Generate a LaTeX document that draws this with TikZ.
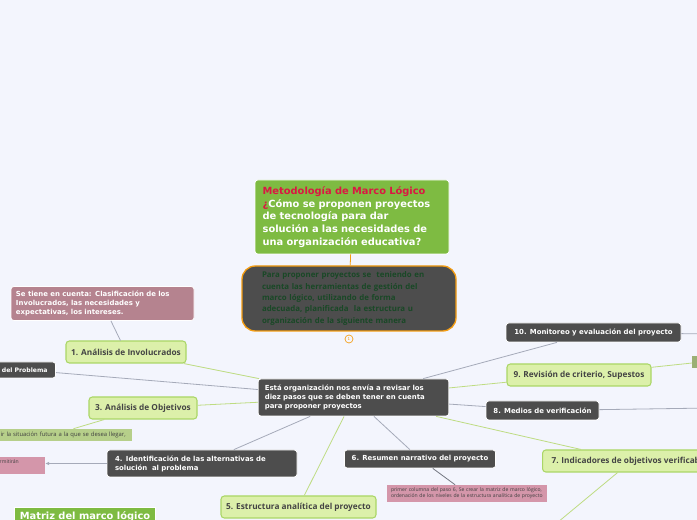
\documentclass[tikz,border=0pt]{standalone}
\usepackage{fontspec}
\setmainfont{DejaVu Sans}
\newfontfamily\opensans{Open Sans}
\usetikzlibrary{arrows.meta}
\definecolor{mmbg}{RGB}{243,245,253}
\definecolor{mmgreen}{RGB}{126,187,66}
\definecolor{mmred}{RGB}{218,24,66}
\definecolor{mmdark}{RGB}{77,77,77}
\definecolor{mmorange}{RGB}{243,156,18}
\definecolor{mmdkgreen}{RGB}{25,72,38}
\definecolor{mmlight}{RGB}{220,240,170}
\definecolor{mmlightedge}{RGB}{170,214,102}
\definecolor{mmtext}{RGB}{68,68,68}
\definecolor{mmmauve}{RGB}{181,131,143}
\definecolor{mmpink}{RGB}{212,150,170}
\definecolor{mmstrip}{RGB}{182,207,138}
\definecolor{mmgreenline}{RGB}{190,220,130}
\definecolor{mmline}{RGB}{165,170,185}
\begin{document}
\begin{tikzpicture}[x=0.75pt, y=-0.75pt,
    darkbox/.style={fill=mmdark, draw=white, line width=0.6pt, rounded corners=2pt, text=white, font=\bfseries\fontsize{5.2}{6.75}\selectfont, align=left, inner xsep=5.5pt, inner ysep=2pt},
    lightbox/.style={fill=mmlight, draw=mmlightedge, line width=0.8pt, rounded corners=2.5pt, text=mmtext, font=\opensans\bfseries\fontsize{6.2}{7.5}\selectfont, inner sep=0pt},
    notebox/.style={inner ysep=1.5pt, font=\opensans\fontsize{3.8}{4.6}\selectfont, text=black!75, align=left},
    greyline/.style={draw=mmline, line width=0.6pt},
    greenline/.style={draw=mmgreenline, line width=0.6pt}]
    \useasboundingbox (0,0) rectangle (697,520);
    \fill[mmbg] (0,0) rectangle (697,520);
    \clip (0,0) rectangle (697,520);

    % question and introduction
    \node[fill=mmgreen, draw=white, line width=0.6pt, rounded corners=2pt, text=white, font=\bfseries\fontsize{7.4}{9.5}\selectfont, align=left, text width=134pt, inner xsep=5.75pt, minimum height=55.5pt] (title) at (352,217)
        {{\color{mmred}Metodología de Marco Lógico}\\{\color{mmred}¿}Cómo se proponen proyectos\\de tecnología para dar\\solución a las necesidades de\\una organización educativa?};
    \node[fill=mmdark, draw=mmorange, line width=1pt, rounded corners=10pt, text=mmdkgreen, font=\opensans\bfseries\fontsize{5.9}{8.5}\selectfont, align=left, text width=130.5pt, inner xsep=15pt, minimum height=48.75pt] (intro) at (349,298.5)
        {Para proponer proyectos se\ \ teniendo en\\cuenta las herramientas de gestión del\\marco lógico, utilizando de forma\\adecuada, planificada\ \ la estructura u\\organización de la siguiente manera};
    \node[circle, draw=mmorange, line width=0.5pt, minimum size=6pt, inner sep=0pt, text=mmorange, font=\fontsize{3}{3}\selectfont] (badge) at (349,339) {1};
    \draw[mmorange, line width=0.6pt] (title) -- (intro);

    % central node
    \node[darkbox, text width=133pt, inner xsep=5pt, minimum height=27.75pt] (steps) at (353.5,397.5)
        {Está organización nos envía a revisar los\\diez pasos que se deben tener en cuenta\\para proponer proyectos};

    % ten steps
    \node[lightbox, minimum width=90pt, minimum height=16.5pt] (s1) at (126,352) {1. Análisis de Involucrados};
    \node[darkbox, anchor=east, minimum height=12pt, inner xsep=6pt, font=\bfseries\fontsize{4.6}{6}\selectfont] (s2) at (56,370) {del Problema};
    \node[lightbox, minimum width=81pt, minimum height=16.5pt] (s3) at (143,408) {3. Análisis de Objetivos};
    \node[darkbox, text width=130.5pt, inner xsep=6pt, minimum height=20.25pt] (s4) at (202,463.5)
        {4. Identificación de las alternativas de\\solución\ \ al problema};
    \node[lightbox, minimum width=116.25pt, minimum height=16.5pt] (s5) at (298.5,507) {5. Estructura analítica del proyecto};
    \node[darkbox, minimum width=112.5pt, minimum height=13.5pt] (s6) at (420,459) {6. Resumen narrativo del proyecto};
    \node[lightbox, anchor=west, minimum height=16.5pt, inner xsep=6.75pt] (s7) at (542,461) {7. Indicadores de objetivos verificables};
    \node[darkbox, minimum width=84.75pt, minimum height=14.25pt] (s8) at (542.5,410.5) {8. Medios de verificación};
    \node[lightbox, minimum width=108pt, minimum height=16.5pt] (s9) at (579,375) {9. Revisión de criterio, Supestos};
    \node[darkbox, minimum width=131.25pt, minimum height=14.25pt] (s10) at (593.5,332.5) {10. Monitoreo y evaluación del proyecto};

    % notes of the steps
    \node[fill=mmmauve, draw=white, line width=0.6pt, rounded corners=2pt, text=white, font=\bfseries\fontsize{5.2}{6.75}\selectfont, align=left, text width=129.75pt, inner xsep=3.75pt, minimum height=23.25pt] (s1note) at (102.5,303.5)
        {Se tiene en cuenta: Clasificación de los\\Involucrados, las necesidades y\\expectativas, los intereses.};
    \node[notebox, fill=mmstrip, anchor=east, text width=110pt, align=right, inner xsep=4.5pt, minimum height=9pt, font=\opensans\fontsize{4.4}{5}\selectfont] (s3note) at (132,435) {ir la situación futura a la que se desea llegar,};
    \node[notebox, fill=mmpink, anchor=north east, text width=30.75pt, inner xsep=3pt, text depth=6.5pt] (s4note) at (45,457) {rmitirán};
    \node[notebox, fill=mmpink, text width=114pt, inner xsep=3pt, minimum height=12.75pt] (s6note) at (467,493.5)
        {primer columna del paso 6, Se crear la matriz de marco lógico,\\ordenación de los niveles de la estructura analítica de proyecto};
    \node[fill=mmstrip!85!black, anchor=west, minimum width=14pt, minimum height=9pt] (s9note) at (692,362) {};
    \node[fill=mmgreen, draw=white, line width=0.6pt, anchor=north, inner xsep=4pt, inner ysep=3pt, text=white, font=\bfseries\fontsize{7.4}{9}\selectfont] (mlm) at (85,507) {Matriz del marco lógico};
    \coordinate (s7end) at (540,537);
    \coordinate (s8end) at (710,408);
    \coordinate (s10end) at (710,334);

    % connectors
    \draw[greenline] (steps) -- (s1);
    \draw[greyline] (steps) -- (s2);
    \draw[greenline] (steps) -- (s3);
    \draw[greyline] (steps) -- (s4);
    \draw[greenline] (steps) -- (s5);
    \draw[greyline] (steps) -- (s6);
    \draw[greenline] (steps) -- (s7);
    \draw[greyline] (steps) -- (s8);
    \draw[greenline] (steps) -- (s9);
    \draw[greyline] (steps) -- (s10);
    \draw[greyline] (s1note) -- (s1);
    \draw[greenline] (s3) -- (s3note);
    \draw[greyline, -{Latex[length=3pt, width=2.5pt]}] (s4.west) -- (s4.west -| s4note.east);
    \draw[greyline, draw=mmline!70!black] (s6) -- (s6note);
    \draw[greenline] (s7) -- (s7end);
    \draw[greyline] (s8) -- (s8end);
    \draw[greenline] (s9) -- (s9note);
    \draw[greyline] (s10) -- (s10end);
\end{tikzpicture}
\end{document}
